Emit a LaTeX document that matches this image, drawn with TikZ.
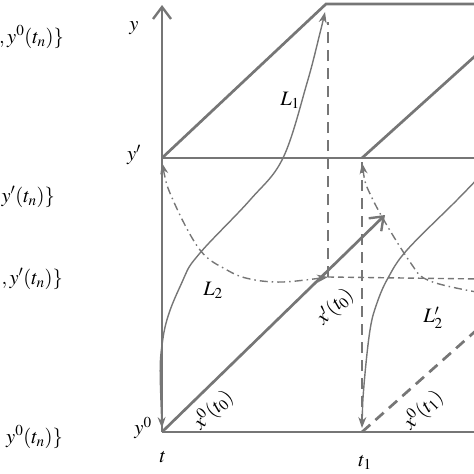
\documentclass[tikz,border=0pt]{standalone}
\usepackage{mathptmx}
\usepackage{fontspec}
\setmainfont{Liberation Serif}
\usetikzlibrary{arrows.meta}
\definecolor{lc}{RGB}{118,118,118}
\begin{document}
\begin{tikzpicture}[x=1pt,y=-1pt,
  ln/.style={draw=lc, line width=2.7pt},
  thn/.style={draw=lc, line width=1.4pt},
  thickdash/.style={ln, dash pattern=on 11pt off 7pt},
  thindash/.style={thn, dash pattern=on 6pt off 4pt},
  dashdot/.style={thn, dash pattern=on 8pt off 4pt on 1.5pt off 4pt},
  barb/.style={-{Straight Barb[length=12pt,width=18pt,line width=2.4pt]}},
  lbl/.style={text=black, font=\fontsize{20.5}{24}\selectfont, inner sep=0pt},
  ft/.tip={Stealth[length=11pt,width=8pt]}
]
\useasboundingbox (0,0) rectangle (474,474);
\clip (0,0) rectangle (474,474);
% key points
\coordinate (O) at (162,432);
\coordinate (Yp) at (162,158);
\coordinate (Ytop) at (162,5);
\coordinate (P) at (326,4);
\coordinate (Pr) at (480,4);
\coordinate (Ypr) at (480,158);
\coordinate (Xr) at (480,432);
\coordinate (T1) at (362,432);
\coordinate (T1b) at (362,424);
\coordinate (T1p) at (362,158);
\coordinate (T1q) at (362,162);
\coordinate (Q) at (484,48);
\coordinate (A) at (385,215);
\coordinate (M) at (328,277);
\coordinate (Mtop) at (328,22);
\coordinate (Hr) at (480,279);
\coordinate (D) at (480,327);
% axes and frame
\draw[ln, barb] (O) -- (Ytop);
\draw[ln] (O) -- (Xr);
\draw[ln, line join=miter] (Yp) -- (P) -- (Pr);
\draw[ln] (Yp) -- (Ypr);
\draw[ln] (T1p) -- (Q);
\draw[ln, barb] (O) -- (A);
\draw[thickdash] (M) -- (Mtop);
\draw[thickdash] (T1q) -- (T1b);
\draw[thindash] (M) -- (Hr);
\draw[thickdash] (T1) -- (D);
% curves
\draw[thn, ft-ft] plot[smooth, tension=0.6] coordinates {(162,428) (163,338) (183,280) (200,253) (250,200) (283,158) (307,83) (320,33) (325,12)};
\draw[thn, ft-] plot[smooth, tension=0.6] coordinates {(362,428) (364,385) (370,330) (377,303) (388,278) (407,250) (457,200) (482,174)};
\draw[dashdot, ft-ft] plot[smooth, tension=0.6] coordinates {(162,163) (173,200) (200,250) (227,270) (250,279) (283,282) (328,277)};
\draw[dashdot, ft-] plot[smooth, tension=0.6] coordinates {(362,163) (373,200) (410,262) (430,281) (482,293)};
% labels
\node[lbl] (ly) at (134,28) {$y$};
\node[lbl] (lyp) at (134,155) {$y'$};
\node[lbl] (ly0) at (143,428) {$y^0$};
\node[lbl] (lt) at (163,457) {$t$};
\node[lbl] (lt1) at (365,462) {$t_1$};
\node[lbl] (lL1) at (290,100) {$L_1$};
\node[lbl] (lL2) at (213,290) {$L_2$};
\node[lbl] (lL2p) at (433,318) {$L'_2$};
\node[lbl, rotate=45] (lx0) at (213,410) {$x^0(t_0)$};
\node[lbl, rotate=45] (lxp) at (335,307) {$x'(t_0)$};
\node[lbl, rotate=45] (lx1) at (423,410) {$x^0(t_1)$};
% left set labels (cut off by the frame)
\node[lbl, anchor=east] (s1) at (64,37) {$\{y^0(t_1),\ldots, y^0(t_n)\}$};
\node[lbl, anchor=east] (s2) at (55,197) {$\{y'(t_1),\ldots,\ y'(t_n)\}$};
\node[lbl, anchor=east] (s3) at (63,279) {$\{y'(t_1),\ldots, y'(t_n)\}$};
\node[lbl, anchor=east] (s4) at (63,437) {$\{y^0(t_1),\ldots,\ y^0(t_n)\}$};
\end{tikzpicture}
\end{document}
